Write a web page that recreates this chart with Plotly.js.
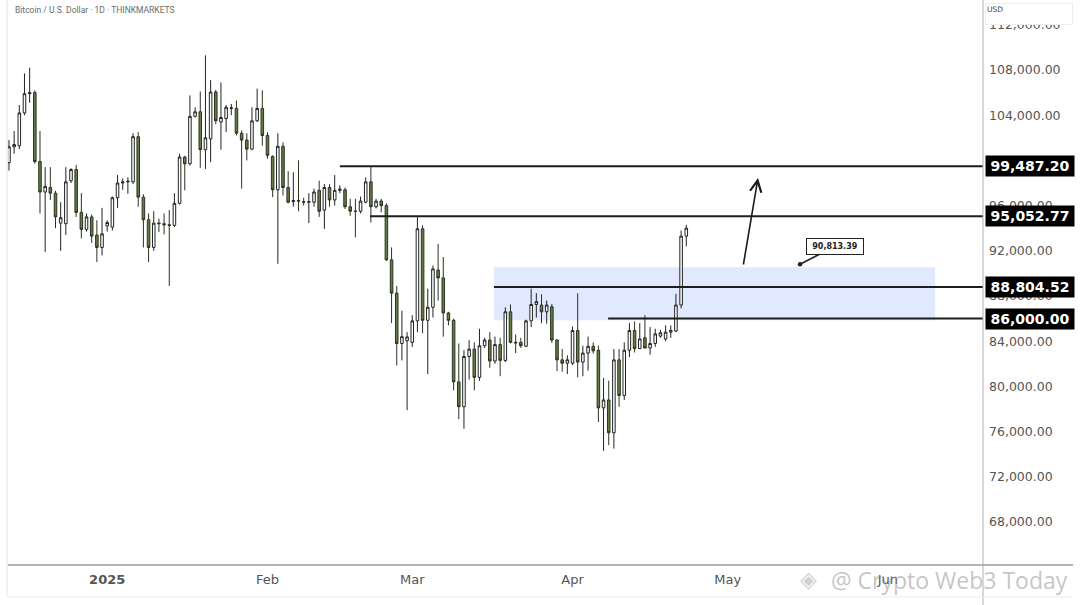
<!DOCTYPE html>
<html>
<head>
<meta charset="utf-8">
<script src="https://cdn.plot.ly/plotly-3.0.1.min.js"></script>
<style>html,body{margin:0;padding:0;background:#fff;}#chart{width:1080px;height:605px;}</style>
</head>
<body>
<div id="chart"></div>
<script>
// ---- data (daily candles, BTC/USD) ----
const dates = [
 '2024-12-13','2024-12-14','2024-12-15','2024-12-16','2024-12-17','2024-12-18','2024-12-19','2024-12-20','2024-12-21','2024-12-22',
 '2024-12-23','2024-12-24','2024-12-25','2024-12-26','2024-12-27','2024-12-28','2024-12-29','2024-12-30','2024-12-31',
 '2025-01-01','2025-01-02','2025-01-03','2025-01-04','2025-01-05','2025-01-06','2025-01-07','2025-01-08','2025-01-09','2025-01-10',
 '2025-01-11','2025-01-12','2025-01-13','2025-01-14','2025-01-15','2025-01-16','2025-01-17','2025-01-18','2025-01-19','2025-01-20',
 '2025-01-21','2025-01-22','2025-01-23','2025-01-24','2025-01-25','2025-01-26','2025-01-27','2025-01-28','2025-01-29','2025-01-30','2025-01-31',
 '2025-02-01','2025-02-02','2025-02-03','2025-02-04','2025-02-05','2025-02-06','2025-02-07','2025-02-08','2025-02-09','2025-02-10',
 '2025-02-11','2025-02-12','2025-02-13','2025-02-14','2025-02-15','2025-02-16','2025-02-17','2025-02-18','2025-02-19','2025-02-20',
 '2025-02-21','2025-02-22','2025-02-23','2025-02-24','2025-02-25','2025-02-26','2025-02-27','2025-02-28',
 '2025-03-01','2025-03-02','2025-03-03','2025-03-04','2025-03-05','2025-03-06','2025-03-07','2025-03-08','2025-03-09','2025-03-10',
 '2025-03-11','2025-03-12','2025-03-13','2025-03-14','2025-03-15','2025-03-16','2025-03-17','2025-03-18','2025-03-19','2025-03-20',
 '2025-03-21','2025-03-22','2025-03-23','2025-03-24','2025-03-25','2025-03-26','2025-03-27','2025-03-28','2025-03-29','2025-03-30','2025-03-31',
 '2025-04-01','2025-04-02','2025-04-03','2025-04-04','2025-04-05','2025-04-06','2025-04-07','2025-04-08','2025-04-09','2025-04-10',
 '2025-04-11','2025-04-12','2025-04-13','2025-04-14','2025-04-15','2025-04-16','2025-04-17','2025-04-18','2025-04-19','2025-04-20',
 '2025-04-21','2025-04-22','2025-04-23'
];
const openP = [
 99800,101200,101300,104200,105900,106000,99900,97200,97600,97100,94450,94400,98200,99200,95400,93900,95000,93400,92300,94200,
 94100,96700,98000,98100,98100,102100,96750,94750,92300,94450,94400,94300,94250,96200,100300,99700,103900,104300,100950,101900,
 106050,103400,103700,104600,104600,102400,101800,101000,103500,104600,102200,100350,97400,101250,97600,96350,96450,96350,96300,96300,
 97350,95600,97600,96500,97350,97400,95900,95500,95500,96300,98100,95900,96400,96000,91200,88250,83800,84040,83900,85800,
 93950,85850,87000,90300,89600,86500,85850,80400,78200,82650,83300,80800,83600,84100,82250,83700,82300,86600,83900,83900,
 83550,85800,87250,87200,86600,87050,84100,82350,82050,82050,84950,82150,82950,83550,83200,78100,78800,75900,82350,79200,
 83200,84950,83350,84300,83400,83800,84450,84200,84800,84900,87200,93300
];
const highP = [
 101800,102600,104900,107700,108200,106200,102600,99400,99400,97300,96300,99400,99300,99600,97100,95300,95200,94700,95800,94700,
 96800,98700,98400,98500,102400,102500,97000,95300,95500,94850,95300,95600,97100,100600,100400,105750,104700,106100,109300,107100,
 106250,106900,104900,105000,105300,102650,102400,104700,106350,106200,102500,100450,102400,101600,99050,98950,100000,96700,97100,97500,
 98200,97900,97900,98700,97800,97600,96600,96600,96800,98500,99487,96600,96600,96200,92300,88900,86700,84800,86300,95050,
 94250,88650,90700,92600,91450,86600,86000,83800,83200,84100,83900,85100,84300,84800,84400,84300,87000,87250,84600,84300,
 85900,88650,88250,88150,87600,87300,84200,83300,82750,85300,88250,83600,84400,83900,83600,80750,80500,83300,83300,83900,
 85600,85750,85600,86300,85250,85100,85000,85400,85400,88200,93800,94300
];
const lowP = [
 99100,100600,101000,104000,105100,99700,95300,91900,96500,94000,92000,93400,98000,95000,93100,93700,92700,91000,91600,93700,
 93800,95800,97400,97050,97900,95900,92300,91000,92000,93650,93450,88900,94100,96100,97350,99550,103800,99350,99250,99850,
 103200,100950,102500,104000,102200,97500,100000,100900,103400,101300,100150,96750,90850,96900,96200,95900,95500,96000,94450,95900,
 95000,93950,95900,96000,97100,95700,95100,93200,95300,96200,94500,95750,95400,91100,85600,81850,82300,77900,83500,84800,
 84700,81100,86100,87600,84400,85400,79650,77100,76250,80600,79650,80500,83400,81650,82000,80900,82150,83800,82950,83400,
 83500,85250,86100,85600,85550,83850,81350,81300,81100,81900,80800,80900,81400,82900,76850,74300,74800,74500,78200,78800,
 82600,83000,83300,83350,82800,83500,84300,84000,84300,84800,86900,92400
];
const closeP = [
 101200,101400,104200,105900,106000,99900,97200,97700,97100,95000,94930,98100,99200,95400,93900,95000,93300,92300,93500,94500,
 96700,98000,98100,98150,102100,96750,94750,92300,94450,94400,94300,94250,96200,100300,99700,103900,104300,100950,102000,106050,
 103500,103800,104700,104650,102400,101800,101000,103500,104600,102200,100450,97400,101250,97600,96300,96450,96400,96300,96350,97200,
 95500,97600,96500,97350,97450,95900,95500,95500,96400,98100,95900,96400,96000,91200,88250,83800,84400,84380,85800,93950,
 85850,87000,90400,89600,86500,85850,80400,78200,82650,83300,80800,83600,84100,82250,83700,82300,86600,83900,83850,83600,
 85800,87250,87500,86600,87200,84100,82350,82050,82350,84950,82150,82950,83550,83150,78100,78800,75900,82350,79200,83200,
 84950,83350,84200,83400,83800,84650,84750,84800,84950,87200,93300,94000
];

// horizontal levels drawn on the chart
const levelPrices = [99487.20, 95052.77, 88804.52, 86000.00];
const levelStarts = ['2025-02-15 00:00', '2025-02-20 20:00', '2025-03-16 19:00', '2025-04-07 21:00'];
const levelLabels = ['99,487.20', '95,052.77', '88,804.52', '86,000.00'];
// shaded zone
const zone = {x0: '2025-03-16 19:00', x1: '2025-06-10 03:00', y0: 85850, y1: 90550};
// projected arrow
const arrowFrom = {x: '2025-05-04 00:00', y: 90655};
const arrowTo = {x: '2025-05-06 21:00', y: 98442};
// callout
const callout = {x: '2025-05-15 00:00', y: 90813.39, text: '90,813.39'};

const yTicks = [68000, 72000, 76000, 80000, 84000, 88000, 92000, 96000, 100000, 104000, 108000, 112000];
const xTickVals = ['2025-01-01', '2025-02-01', '2025-03-01', '2025-04-01', '2025-05-01', '2025-06-01'];
const xTickText = ['<b>2025</b>', 'Feb', 'Mar', 'Apr', 'May', 'Jun'];

const xRange = ['2024-12-12 19:30', '2025-06-19 09:20'];
const yRange = [64195, 114195];

// ---- build ----
const trace = {
  type: 'candlestick',
  x: dates, open: openP, high: highP, low: lowP, close: closeP,
  increasing: {line: {color: '#222222', width: 1}, fillcolor: '#ffffff'},
  decreasing: {line: {color: '#2a3320', width: 1}, fillcolor: '#677b47'},
  hoverinfo: 'skip',
  showlegend: false
};

const shapes = [];
shapes.push({type: 'rect', xref: 'x', yref: 'y', layer: 'below',
  x0: zone.x0, x1: zone.x1, y0: zone.y0, y1: zone.y1,
  fillcolor: 'rgba(41,98,255,0.14)', line: {width: 0}});
levelPrices.forEach((p, i) => {
  shapes.push({type: 'line', xref: 'x', yref: 'y', x0: levelStarts[i], x1: xRange[1], y0: p, y1: p,
    line: {color: '#1e1e1e', width: 2}});
});
// pane frame lines
shapes.push({type: 'line', xref: 'paper', yref: 'paper', x0: 0, x1: 1.0923, y0: 0, y1: 0, line: {color: '#9a9a9a', width: 1.5}});
shapes.push({type: 'line', xref: 'paper', yref: 'paper', x0: 1, x1: 1, y0: -0.075, y1: 1, line: {color: '#b0b0b0', width: 1}});
shapes.push({type: 'line', xref: 'paper', yref: 'paper', x0: -0.001, x1: -0.001, y0: -0.0566, y1: 1, line: {color: '#e6e6e6', width: 1}});
shapes.push({type: 'line', xref: 'paper', yref: 'paper', x0: -0.001, x1: 1.0923, y0: -0.0566, y1: -0.0566, line: {color: '#ededed', width: 1}});

const annotations = [];
annotations.push({xref: 'paper', yref: 'paper', x: 0.005, y: 0.982, xanchor: 'left', yanchor: 'middle',
  text: 'Bitcoin / U.S. Dollar · 1D · THINKMARKETS', showarrow: false,
  font: {family: 'Roboto, sans-serif', size: 8.5, color: '#6a6a6a'}});
annotations.push({xref: 'paper', yref: 'paper', x: 1, y: 1, xanchor: 'left', yanchor: 'top', xshift: 2, yshift: -3,
  text: 'USD', showarrow: false, align: 'left', valign: 'top', width: 84, height: 18, bgcolor: '#ffffff', bordercolor: '#eeeeee', borderwidth: 1, borderpad: 1,
  font: {family: 'DejaVu Sans, sans-serif', size: 7.5, color: '#444'}});
levelPrices.forEach((p, i) => {
  annotations.push({xref: 'paper', yref: 'y', x: 1, y: p, xanchor: 'left', yanchor: 'middle', xshift: 2,
    text: '<b>' + levelLabels[i] + '</b>', showarrow: false, bgcolor: '#000000', borderpad: 1, width: 86, height: 18,
    font: {family: 'DejaVu Sans, sans-serif', size: 14, color: '#ffffff'}});
});
annotations.push({xref: 'x', yref: 'y', x: arrowTo.x, y: arrowTo.y, axref: 'x', ayref: 'y', ax: arrowFrom.x, ay: arrowFrom.y,
  text: '', showarrow: true, arrowhead: 5, arrowsize: 1.4, arrowwidth: 1.6, arrowcolor: '#1a1a1a'});
annotations.push({xref: 'x', yref: 'y', x: callout.x, y: callout.y, ax: 35, ay: -18,
  text: '<b>' + callout.text + '</b>', showarrow: true, arrowhead: 6, arrowsize: 0.7, arrowwidth: 1.6, arrowcolor: '#222',
  bgcolor: '#ffffff', bordercolor: '#222222', borderwidth: 1, borderpad: 3, width: 50,
  font: {family: 'DejaVu Sans, sans-serif', size: 8, color: '#222'}});
// watermark
annotations.push({xref: 'paper', yref: 'paper', x: 0.81, y: -0.026, xanchor: 'left', yanchor: 'middle',
  text: '◈', showarrow: false, font: {family: 'DejaVu Sans, sans-serif', size: 22, color: 'rgba(150,150,150,0.45)'}});
annotations.push({xref: 'paper', yref: 'paper', x: 0.842, y: -0.026, xanchor: 'left', yanchor: 'middle',
  text: '@ Crypto Web3 Today', showarrow: false, font: {family: 'Open Sans, sans-serif', size: 23, color: 'rgba(140,140,140,0.5)'}});

const layout = {
  width: 1080, height: 605,
  margin: {l: 8, r: 97, t: 0, b: 40},
  paper_bgcolor: '#ffffff', plot_bgcolor: '#ffffff',
  showlegend: false, hovermode: false,
  xaxis: {type: 'date', range: xRange, rangeslider: {visible: false}, showgrid: false, zeroline: false,
    showline: false, ticks: '', tickvals: xTickVals, ticktext: xTickText, ticklabelstandoff: 5,
    tickfont: {family: 'DejaVu Sans, sans-serif', size: 13, color: '#555'}, fixedrange: true},
  yaxis: {side: 'right', range: yRange, showgrid: false, zeroline: false, showline: false, ticks: '',
    tickvals: yTicks, tickformat: ',.2f', ticklabelstandoff: 5,
    tickfont: {family: 'DejaVu Sans, sans-serif', size: 12.5, color: '#555'}, fixedrange: true},
  shapes: shapes,
  annotations: annotations
};

Plotly.newPlot('chart', [trace], layout, {displayModeBar: false, staticPlot: true});
</script>
</body>
</html>
